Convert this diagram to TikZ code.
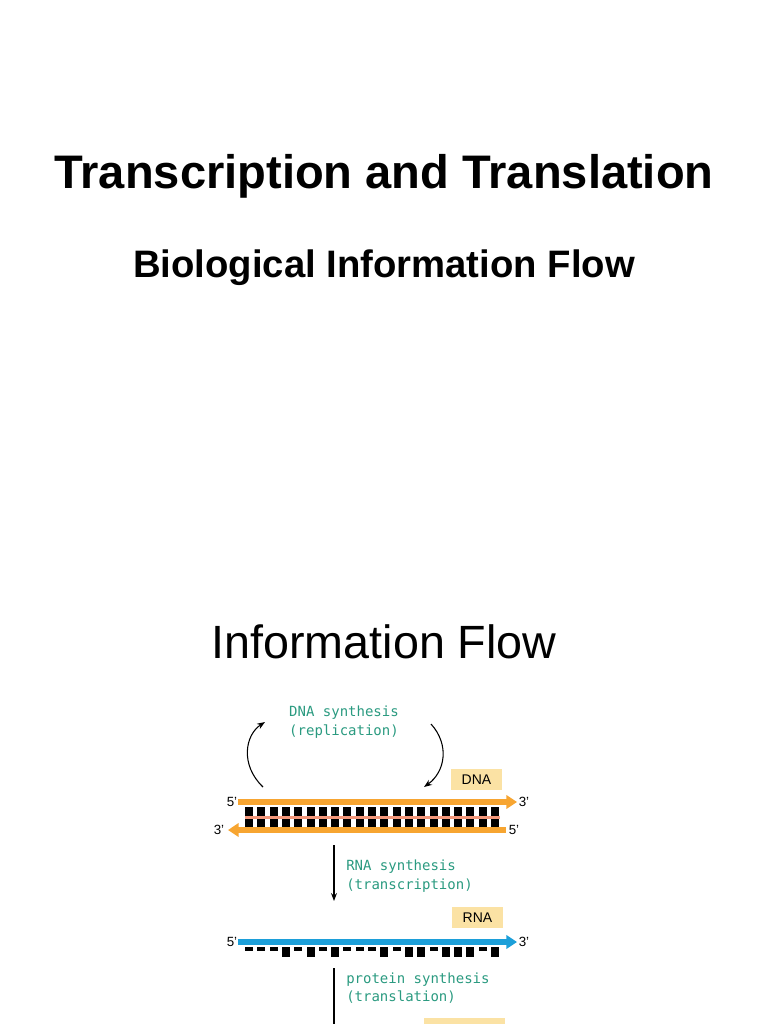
\documentclass[tikz,border=0pt]{standalone}
\usepackage{fontspec}
\usetikzlibrary{arrows.meta}
\setmainfont{Liberation Sans}
\newfontfamily\lab{DejaVu Sans Mono}
\begin{document}
\begin{tikzpicture}[x=0.75pt,y=-0.75pt,
  teal/.style={text=tealc,font=\lab\fontsize{10.5pt}{14pt}\selectfont,align=left,inner sep=0},
  prime/.style={font=\fontsize{10pt}{12pt}\selectfont,inner sep=0},
  tag/.style={fill=tagc,font=\fontsize{10.5pt}{12pt}\selectfont,minimum width=38pt,minimum height=15.5pt,inner sep=0}]
\definecolor{tealc}{HTML}{2A9A80}
\definecolor{tagc}{HTML}{FBE2A4}
\definecolor{orc}{HTML}{F7A531}
\definecolor{bluec}{HTML}{1C9FD9}
\definecolor{salc}{HTML}{F4977A}
\useasboundingbox (0,0) rectangle (768,1024);
\node[font=\bfseries\fontsize{35.3pt}{40pt}\selectfont] (t) at (384,176) {Transcription and Translation};
\node[font=\bfseries\fontsize{28.7pt}{33pt}\selectfont] (s) at (384,268) {Biological Information Flow};
\node[font=\fontsize{35pt}{40pt}\selectfont] (h) at (384,642) {Information Flow};
% DNA
\foreach \i in {0,...,20}{
  \fill (245+\i*12.3,807) rectangle ++(8,9.5);
  \fill (245+\i*12.3,818.5) rectangle ++(8,9);
}
\fill[salc] (245,816) rectangle (500,818.5);
\coordinate (d1a) at (238,802); \coordinate (d1b) at (517,802);
\coordinate (d2a) at (506,830); \coordinate (d2b) at (228,830);
\draw[orc,line width=4.5pt,-{Triangle[length=8pt,width=10pt]}] (d1a) -- (d1b);
\draw[orc,line width=4.5pt,-{Triangle[length=8pt,width=10pt]}] (d2a) -- (d2b);
\node[prime] (p1) at (232,802) {5'};
\node[prime] (p2) at (524,802) {3'};
\node[prime] (p3) at (219,830) {3'};
\node[prime] (p4) at (514,830) {5'};
\node[tag] (dna) at (476.5,779.5) {DNA};
\node[teal] (rep) at (344,722) {DNA synthesis\\(replication)};
\coordinate (la) at (263,787); \coordinate (lb) at (265,722);
\coordinate (ra) at (431,724); \coordinate (rb) at (424,787);
\draw[thick,-{Stealth[length=6pt]}] (la) .. controls (240,765) and (245,735) .. (lb);
\draw[thick,-{Stealth[length=6pt]}] (ra) .. controls (450,745) and (445,772) .. (rb);
% transcription arrow
\coordinate (v1) at (334,845); \coordinate (v2) at (334,901);
\draw[thick,-{Stealth[length=6pt]}] (v1) -- (v2);
\node[teal,anchor=west] (tr) at (346,876) {RNA synthesis\\(transcription)};
\node[tag] (rna) at (477.5,917.5) {RNA};
% RNA
\foreach \i/\h in {0/4,1/4,2/4,3/10,4/4,5/10,6/4,7/10,8/4,9/4,10/4,11/10,12/4,13/10,14/10,15/4,16/10,17/10,18/10,19/4,20/10}{
  \fill (245+\i*12.3,947) rectangle ++(8,\h);
}
\coordinate (r1a) at (238,942); \coordinate (r1b) at (517,942);
\draw[bluec,line width=4.5pt,-{Triangle[length=8pt,width=10pt]}] (r1a) -- (r1b);
\node[prime] (p5) at (232,942) {5'};
\node[prime] (p6) at (524,942) {3'};
\coordinate (w1) at (334,968); \coordinate (w2) at (334,1030);
\draw[thick] (w1) -- (w2);
\node[teal,anchor=west] (tl) at (346,988) {protein synthesis\\(translation)};
\fill[tagc] (424,1018) rectangle (505,1024);
\end{tikzpicture}
\end{document}
